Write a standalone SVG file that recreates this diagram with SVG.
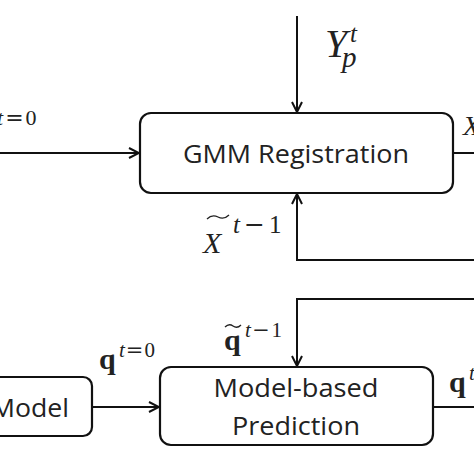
<svg xmlns="http://www.w3.org/2000/svg" width="474" height="474" viewBox="0 0 474 474">
<defs>
<marker id="arr" markerWidth="12" markerHeight="12" viewBox="0 0 12 12" refX="11" refY="6" orient="auto" markerUnits="userSpaceOnUse">
<path d="M1,1 L11,6 L1,11" fill="none" stroke="#111" stroke-width="2"/>
</marker>
<style>
.box{fill:#fff;stroke:#111;stroke-width:2.2}
.ln{fill:none;stroke:#111;stroke-width:2}
.lbl{font-family:"Open Sans","Liberation Sans",sans-serif;font-size:25px;fill:#222}
.m{font-family:"Liberation Serif",serif;font-style:italic;fill:#222}
.r{font-family:"Liberation Serif",serif;fill:#222}
.o{font-family:"DejaVu Serif",serif;font-style:normal}
.b{font-family:"Liberation Serif",serif;font-weight:bold;fill:#222}
.tl{fill:none;stroke:#222;stroke-width:1.3}
</style>
</defs>
<rect width="474" height="474" fill="#fff"/>
<g id="connectors">
<line class="ln" x1="297" y1="16" x2="297" y2="112" marker-end="url(#arr)"/>
<line class="ln" x1="0" y1="153" x2="139" y2="153" marker-end="url(#arr)"/>
<line class="ln" x1="453" y1="153" x2="474" y2="153"/>
<polyline class="ln" points="474,260 297,260 297,194" marker-end="url(#arr)"/>
<polyline class="ln" points="474,299 297,299 297,366" marker-end="url(#arr)"/>
<line class="ln" x1="92" y1="407" x2="159" y2="407" marker-end="url(#arr)"/>
<line class="ln" x1="433" y1="407" x2="474" y2="407"/>
</g>
<g id="gmm">
<rect class="box" x="140" y="113" width="313" height="80" rx="11"/>
<text class="lbl" x="296" y="163" text-anchor="middle" textLength="226" lengthAdjust="spacingAndGlyphs">GMM Registration</text>
</g>
<g id="model-based">
<rect class="box" x="160" y="367" width="273" height="78" rx="11"/>
<text class="lbl" x="296" y="397" text-anchor="middle" textLength="165" lengthAdjust="spacingAndGlyphs">Model-based</text>
<text class="lbl" x="296" y="435" text-anchor="middle" textLength="128" lengthAdjust="spacingAndGlyphs">Prediction</text>
</g>
<g id="model">
<rect class="box" x="-20" y="377" width="112" height="59" rx="9"/>
<text class="lbl" x="-9" y="417" font-size="26" textLength="78" lengthAdjust="spacingAndGlyphs">Model</text>
</g>
<g id="labels">
<text class="m" x="325" y="57" font-size="40">Y</text>
<text class="m" x="350" y="42" font-size="25">t</text>
<text class="m" x="342" y="67" font-size="29">p</text>
<text class="r" x="-3" y="125" font-size="22"><tspan class="m">t</tspan><tspan class="o" dx="2">=</tspan><tspan dx="2">0</tspan></text>
<text class="m" x="463" y="135" font-size="28">X</text>
<text class="m" x="203" y="253" font-size="30">X</text>
<path class="tl" d="M207,219 q5,-5 11,-2 t11,-2"/>
<text class="r" x="233" y="233" font-size="25"><tspan class="m">t</tspan><tspan class="o" dx="4">−</tspan><tspan dx="4">1</tspan></text>
<text class="b" x="224" y="350" font-size="30">q</text>
<path class="tl" d="M225,327 q4,-4 8,-1 t8,-1"/>
<text class="r" x="245" y="337" font-size="21"><tspan class="m">t</tspan><tspan class="o" dx="1.5">−</tspan><tspan dx="1.5">1</tspan></text>
<text class="b" x="99" y="369" font-size="30">q</text>
<text class="r" x="119" y="357" font-size="21"><tspan class="m">t</tspan><tspan class="o" dx="1">=</tspan><tspan dx="1">0</tspan></text>
<text class="b" x="449" y="392" font-size="30">q</text>
<text class="m" x="469" y="380" font-size="21">t</text>
</g>
</svg>
